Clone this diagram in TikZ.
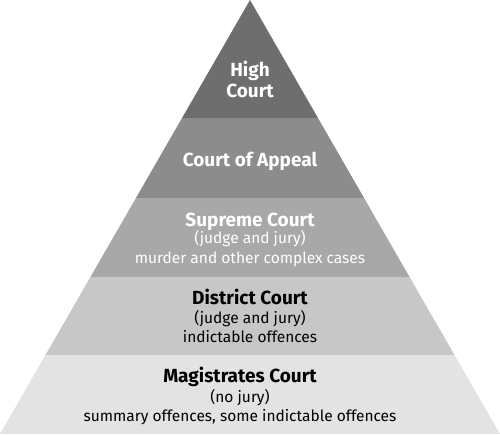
\documentclass[tikz,border=0pt]{standalone}
\usepackage{fontspec}
\setmainfont{Fira Sans}
\usepackage{xcolor}
\usepackage{tikz}

\definecolor{bandA}{gray}{0.43}
\definecolor{bandB}{gray}{0.55}
\definecolor{bandC}{gray}{0.66}
\definecolor{bandD}{gray}{0.78}
\definecolor{bandE}{gray}{0.89}

\tikzset{
    court/.style={anchor=base, inner sep=0pt, font=\bfseries\fontsize{19}{22}\selectfont},
    remark/.style={anchor=base, inner sep=0pt, font=\fontsize{15.5}{18}\selectfont},
}

\begin{document}
\begin{tikzpicture}[x=1pt, y=1pt]
    \useasboundingbox (0,0) rectangle (500,434);

    % 1. Các tầng của kim tự tháp
    \begin{scope}
        \clip (0,0) -- (250,434) -- (500,0) -- cycle;
        \foreach \lo/\hi/\col in {316/434/bandA, 236/316/bandB, 157/236/bandC, 79/157/bandD, 0/79/bandE} {
            \fill[\col] (0,\lo) rectangle (500,\hi);
        }
    \end{scope}

    % 2. High Court
    \node[court, white] (high) at (250,357) {High};
    \node[court, white] (highb) at (250,336) {Court};

    % 3. Court of Appeal
    \node[court, white] (appeal) at (250,267) {Court of Appeal};

    % 4. Supreme Court
    \node[court, white] (supreme) at (250,207) {Supreme Court};
    \node[remark, white] (supjury) at (250,190) {(judge and jury)};
    \node[remark, white] (supcase) at (250,171) {murder and other complex cases};

    % 5. District Court
    \node[court] (district) at (250,130) {District Court};
    \node[remark] (disjury) at (250,111) {(judge and jury)};
    \node[remark] (discase) at (250,92) {indictable offences};

    % 6. Magistrates Court
    \node[court] (magis) at (240,52) {Magistrates Court};
    \node[remark] (magjury) at (240,32) {(no jury)};
    \node[remark] (magcase) at (240,13) {summary offences, some indictable offences};
\end{tikzpicture}
\end{document}
